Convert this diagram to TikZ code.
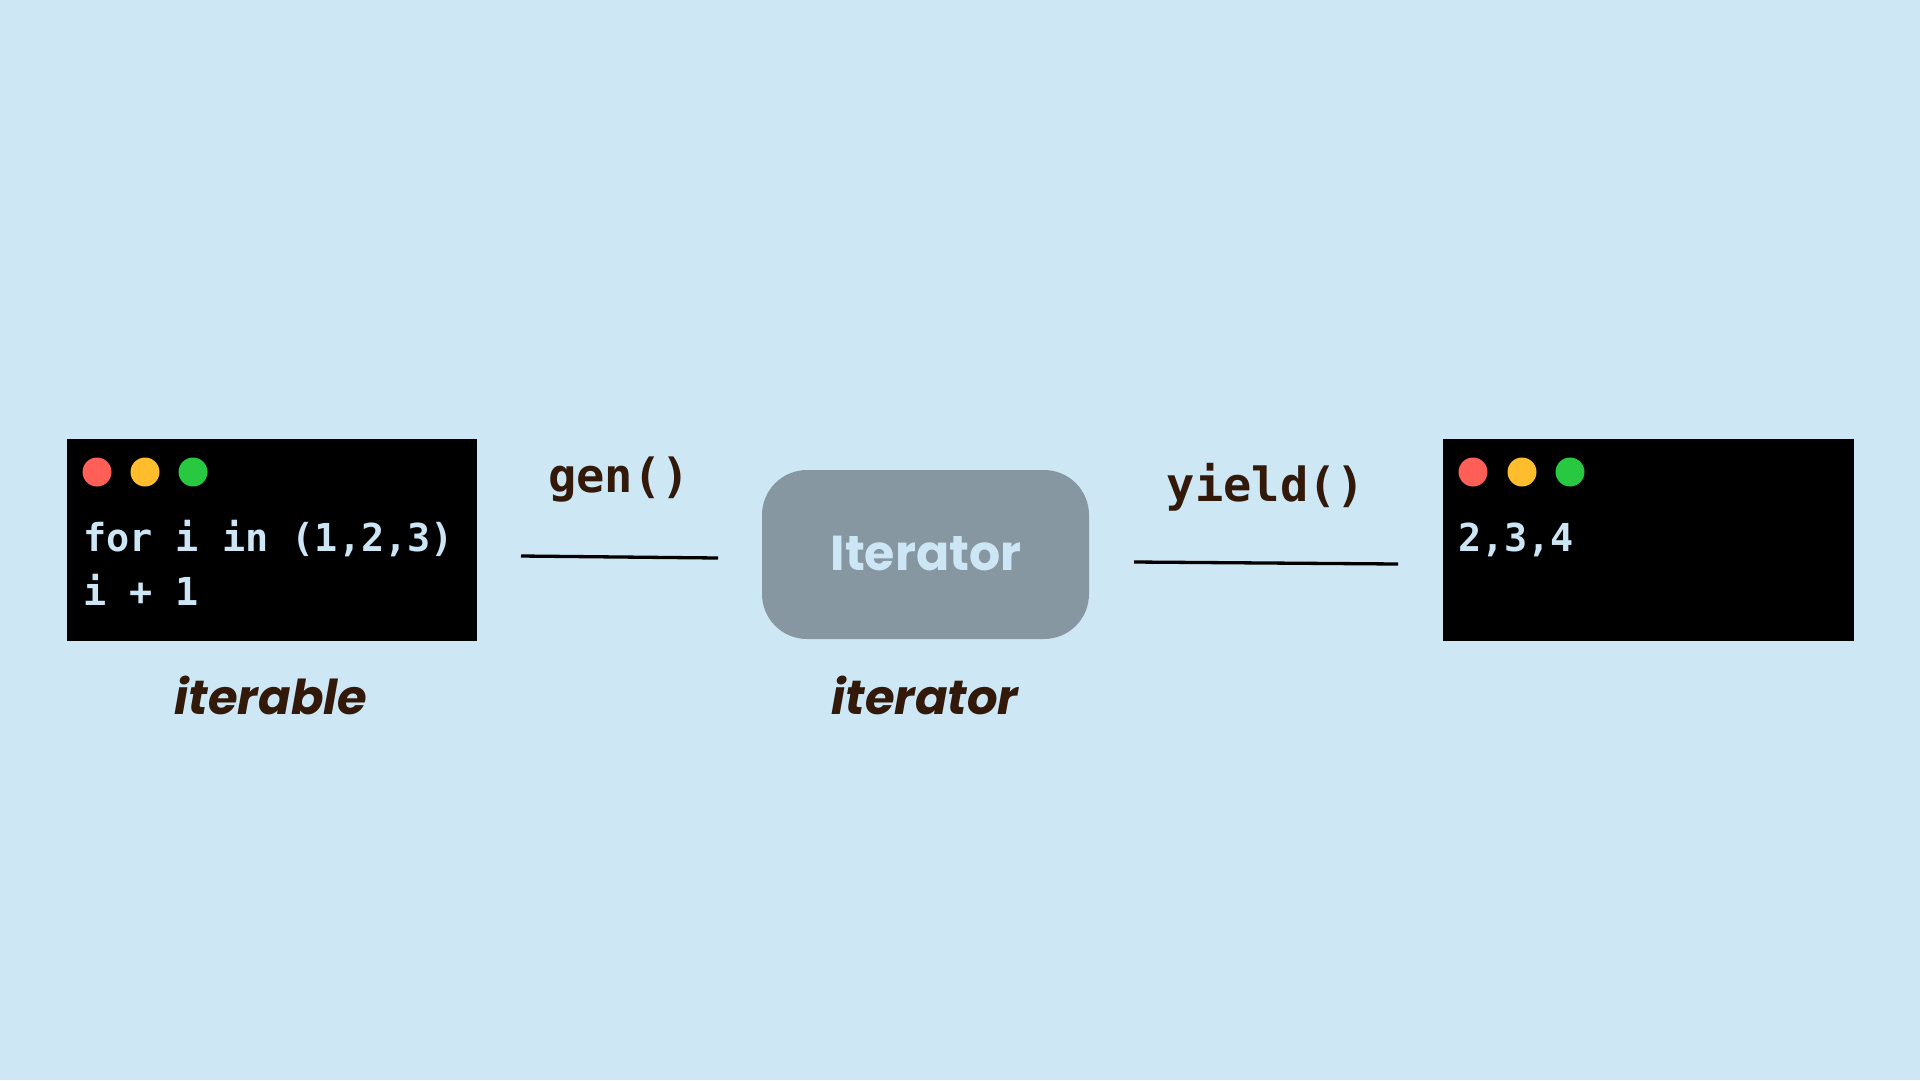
\documentclass[tikz,border=0pt]{standalone}
\usepackage{fontspec}
\setmainfont{Poppins}
\setmonofont{DejaVu Sans Mono}
\definecolor{bg}{RGB}{205,231,245}
\definecolor{codefg}{RGB}{205,230,245}
\definecolor{itgray}{RGB}{135,151,161}
\definecolor{ink}{RGB}{50,25,10}
\definecolor{macred}{RGB}{255,95,87}
\definecolor{macyellow}{RGB}{255,189,46}
\definecolor{macgreen}{RGB}{40,200,64}
\tikzset{
  term/.style={fill=black, draw=none, inner sep=0pt},
  iterbox/.style={fill=itgray, draw=none, rounded corners=45pt, inner sep=0pt},
  dot/.style={circle, draw=none, inner sep=0pt, minimum size=29pt},
  code/.style={font=\ttfamily\bfseries\fontsize{38.5}{40}\selectfont, text=codefg, anchor=base west, inner sep=0pt},
  fname/.style={font=\ttfamily\bfseries\fontsize{47}{49}\selectfont, text=ink, anchor=base, inner sep=0pt},
  caption/.style={font=\bfseries\itshape\fontsize{48}{50}\selectfont, text=ink, anchor=base, inner sep=0pt},
  boxtext/.style={font=\bfseries\fontsize{49}{50}\selectfont, text=codefg, anchor=base, inner sep=0pt},
  wire/.style={draw=black, line width=3.3pt}
}
\begin{document}
\begin{tikzpicture}[x=1pt,y=-1pt]
\path[use as bounding box, fill=bg] (0,0) rectangle (1920,1080);
% terminals
\node[term, minimum width=410pt, minimum height=202pt] (src) at (272,540) {};
\node[term, minimum width=411pt, minimum height=202pt] (out) at (1648.5,540) {};
% iterator box
\node[iterbox, minimum width=327pt, minimum height=169pt] (it) at (925.5,554.5) {};
\node[boxtext] (ittext) at (926,570) {Iterator};
% dots
\node[dot, fill=macred] (r1) at (97,472) {};
\node[dot, fill=macyellow] (y1) at (145,472) {};
\node[dot, fill=macgreen] (g1) at (193,472) {};
\node[dot, fill=macred] (r2) at (1473,472) {};
\node[dot, fill=macyellow] (y2) at (1522,472) {};
\node[dot, fill=macgreen] (g2) at (1570,472) {};
% code
\node[code] (c1) at (83,551) {for i in (1,2,3)};
\node[code] (c2) at (83,605) {i + 1};
\node[code] (c3) at (1458,551) {2,3,4};
% captions
\node[caption] (cap1) at (271,714) {iterable};
\node[caption] (cap2) at (925,714) {iterator};
% function labels
\node[fname] (gen) at (619,492) {gen()};
\node[fname] (yield) at (1266,501) {yield()};
% wires
\coordinate (w1a) at (521,556);
\coordinate (w1b) at (718,558);
\coordinate (w2a) at (1134,562);
\coordinate (w2b) at (1398,564);
\draw[wire] (w1a) -- (w1b);
\draw[wire] (w2a) -- (w2b);
\end{tikzpicture}
\end{document}
